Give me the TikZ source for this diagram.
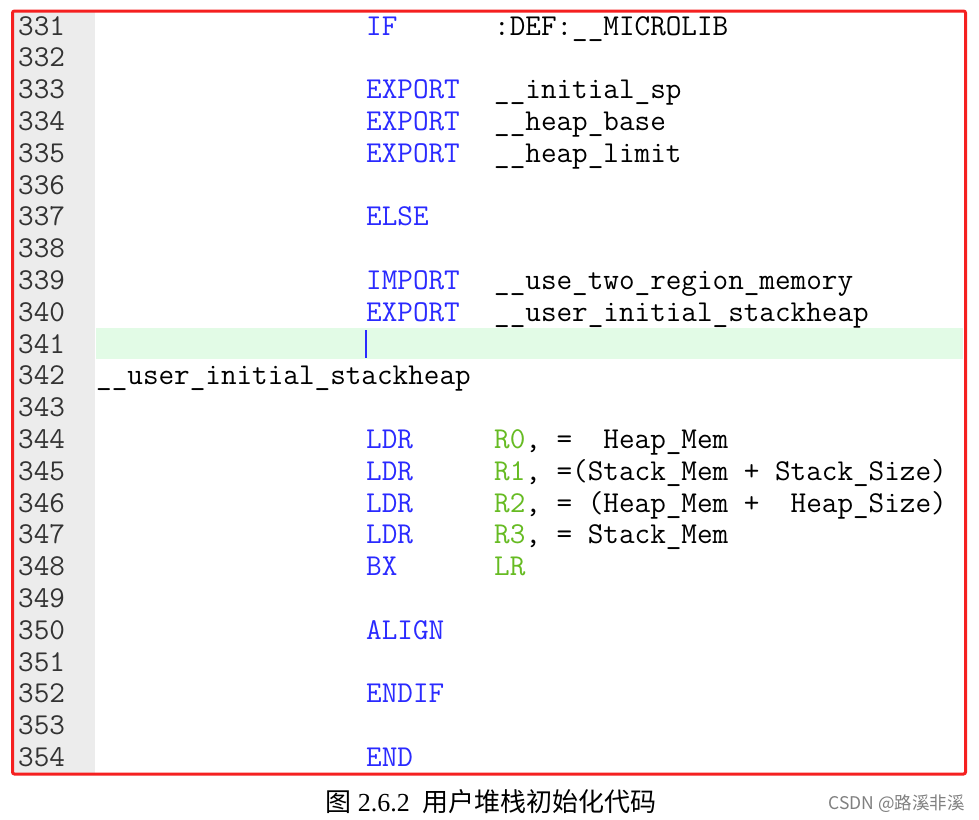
\documentclass[tikz,border=0pt]{standalone}
\usepackage{fontspec}
\setmainfont{Liberation Serif}
\newfontfamily\cjk{Noto Sans CJK SC}
\definecolor{kw}{HTML}{2A2AFF}
\definecolor{rg}{HTML}{66BB22}
\definecolor{ln}{HTML}{333333}
\definecolor{lnbg}{HTML}{ECECEC}
\definecolor{hl}{HTML}{E2FBE6}
\definecolor{frame}{HTML}{F52020}
\tikzset{code/.style={anchor=base west,inner sep=0pt,font=\fontsize{30.3}{30.3}\ttfamily}}
\newcommand{\us}{\_}
\begin{document}
\begin{tikzpicture}[x=1pt,y=-1pt]
\useasboundingbox (0,0) rectangle (979,819);
\fill[white] (0,0) rectangle (979,819);
\fill[lnbg] (14,12) rectangle (95,773);
\fill[hl] (96,328) rectangle (963,359);
\draw[kw,line width=1.2pt] (366,330) -- (366,358);
\foreach \n [count=\i from 0] in {331,...,354}{
  \node[code,text=ln] (n\n) at (18,{35+31.8*\i}) {\n};
}
\def\L#1{{35+31.8*#1}}
\node[code,text=kw] (a0) at (366,\L{0}) {IF};
\node[code] (b0) at (494,\L{0}) {:DEF:\us\us MICROLIB};
\node[code,text=kw] (a2) at (366,\L{2}) {EXPORT};
\node[code] (b2) at (494,\L{2}) {\us\us initial\us sp};
\node[code,text=kw] (a3) at (366,\L{3}) {EXPORT};
\node[code] (b3) at (494,\L{3}) {\us\us heap\us base};
\node[code,text=kw] (a4) at (366,\L{4}) {EXPORT};
\node[code] (b4) at (494,\L{4}) {\us\us heap\us limit};
\node[code,text=kw] (a6) at (366,\L{6}) {ELSE};
\node[code,text=kw] (a8) at (366,\L{8}) {IMPORT};
\node[code] (b8) at (494,\L{8}) {\us\us use\us two\us region\us memory};
\node[code,text=kw] (a9) at (366,\L{9}) {EXPORT};
\node[code] (b9) at (494,\L{9}) {\us\us user\us initial\us stackheap};
\node[code] (l11) at (96,\L{11}) {\us\us user\us initial\us stackheap};
\node[code,text=kw] (a13) at (366,\L{13}) {LDR};
\node[code] (b13) at (494,\L{13}) {\textcolor{rg}{R0},\ =\ \ Heap\us Mem};
\node[code,text=kw] (a14) at (366,\L{14}) {LDR};
\node[code] (b14) at (494,\L{14}) {\textcolor{rg}{R1},\ =(Stack\us Mem\ +\ Stack\us Size)};
\node[code,text=kw] (a15) at (366,\L{15}) {LDR};
\node[code] (b15) at (494,\L{15}) {\textcolor{rg}{R2},\ =\ (Heap\us Mem\ +\ \ Heap\us Size)};
\node[code,text=kw] (a16) at (366,\L{16}) {LDR};
\node[code] (b16) at (494,\L{16}) {\textcolor{rg}{R3},\ =\ Stack\us Mem};
\node[code,text=kw] (a17) at (366,\L{17}) {BX};
\node[code,text=rg] (b17) at (494,\L{17}) {LR};
\node[code,text=kw] (a19) at (366,\L{19}) {ALIGN};
\node[code,text=kw] (a21) at (366,\L{21}) {ENDIF};
\node[code,text=kw] (a23) at (366,\L{23}) {END};
\draw[frame,line width=3pt,rounded corners=2pt] (12.5,11) rectangle (965.5,774);
\node[anchor=base,inner sep=0pt,font=\fontsize{26}{26}\selectfont] (cap) at (491,811) {{\cjk 图} 2.6.2\ \ {\cjk 用户堆栈初始化代码}};
\node[anchor=base east,inner sep=0pt,text=gray,font=\fontsize{17.5}{17.5}\selectfont] (wm) at (965,809) {\cjk CSDN @路溪非溪};
\end{tikzpicture}
\end{document}
